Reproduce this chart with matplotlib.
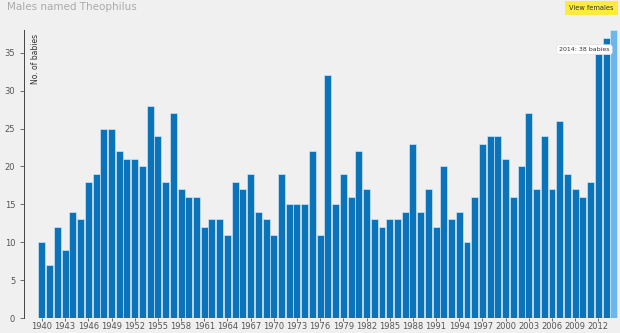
import numpy as np
import matplotlib.pyplot as plt

years = np.arange(1940, 2015)
babies = [10, 7, 12, 9, 14, 13, 18, 19, 25, 25,
          22, 21, 21, 20, 28, 24, 18, 27, 17, 16,
          16, 12, 13, 13, 11, 18, 17, 19, 14, 13,
          11, 19, 15, 15, 15, 22, 11, 32, 15, 19,
          16, 22, 17, 13, 12, 13, 13, 14, 23, 14,
          17, 12, 20, 13, 14, 10, 16, 23, 24, 24,
          21, 16, 20, 27, 17, 24, 17, 26, 19, 17,
          16, 18, 35, 37, 38]
tick_years = np.arange(1940, 2013, 3)

bg = '#f0f0f0'
fig = plt.figure(figsize=(6.2, 3.33), dpi=100, facecolor=bg)
ax = fig.add_axes([0.039, 0.045, 0.961, 0.865], facecolor=bg)

colors = ['#0a73b9'] * (len(years) - 1) + ['#6cb6ee']
ax.bar(years, babies, width=0.9, color=colors, edgecolor='#dff0fb', linewidth=0.4)

ax.set_xlim(1937.7, 2014.8)
ax.set_ylim(0, 38)
ax.set_yticks(range(0, 36, 5))
ax.set_xticks(tick_years)
ax.tick_params(axis='y', labelsize=6, colors='#555555', length=3, width=0.6)
ax.tick_params(axis='x', labelsize=6, colors='#555555', length=2, width=0.6, pad=1)
for s in ['top', 'right', 'bottom']:
    ax.spines[s].set_visible(False)
ax.spines['left'].set_color('#444444')
ax.spines['left'].set_linewidth(0.7)

ax.text(0.012, 0.985, 'No. of babies', transform=ax.transAxes, rotation=90,
        ha='left', va='top', fontsize=5.5, color='#333333')

ax.text(2010.2, 35.4, '2014: 38 babies', fontsize=4.5, color='#333333',
        ha='center', va='center', zorder=5,
        bbox=dict(boxstyle='round,pad=0.4', fc='white', ec='#dddddd', lw=0.4))

fig.text(0.012, 0.978, 'Males named Theophilus', fontsize=7.5, color='#aaaaaa',
         ha='left', va='center')
fig.text(0.99, 0.975, 'View females', fontsize=4.8, color='#333333',
         ha='right', va='center',
         bbox=dict(boxstyle='square,pad=0.6', fc='#ffeb3b', ec='none'))

fig.savefig('out.png', dpi=100, facecolor=bg)
